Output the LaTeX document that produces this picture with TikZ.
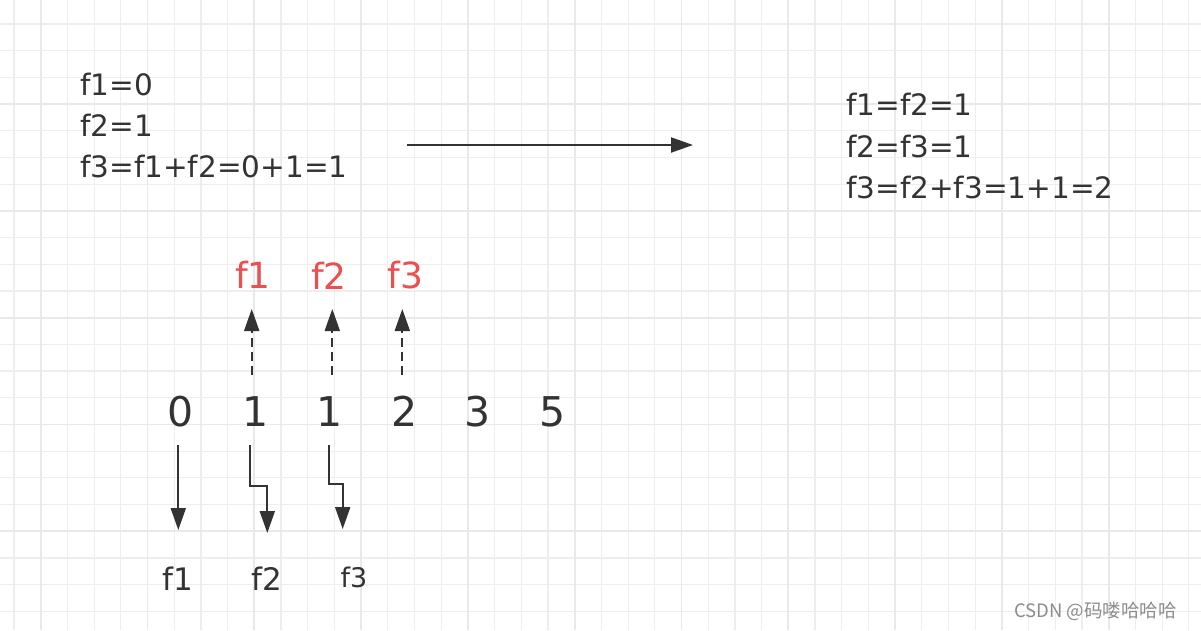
\documentclass[tikz,border=0pt]{standalone}
\usepackage{fontspec}
\setmainfont{DejaVu Sans}
\newfontfamily\cjk{Noto Sans CJK SC}
\usetikzlibrary{arrows.meta}
\definecolor{ink}{HTML}{333333}
\definecolor{redtxt}{HTML}{E9504F}
\definecolor{gridlo}{HTML}{EEEEEE}
\definecolor{gridhi}{HTML}{E9E9E9}
\tikzstyle{gridminor} = [line width = 1.2, color = gridlo]
\tikzstyle{gridmajor} = [line width = 1.8, color = gridhi]
\tikzstyle{arr} = [line width = 2, color = ink, -{Triangle[length=22pt, width=15pt]}]
\tikzstyle{dasharr} = [arr, dash pattern=on 9pt off 5pt]
\tikzstyle{txt} = [inner sep=0, anchor=base west, text=ink, font=\fontsize{29.5}{35}\selectfont]
\tikzstyle{num} = [inner sep=0, anchor=base, text=ink, font=\fontsize{41}{48}\selectfont]
\tikzstyle{ptr} = [inner sep=0, anchor=base, text=redtxt, font=\fontsize{36}{43}\selectfont]
\tikzstyle{lab} = [inner sep=0, anchor=base, text=ink, font=\fontsize{31}{36}\selectfont]

\begin{document}
\begin{tikzpicture}[x=1pt, y=-1pt, line cap=butt]

		% Background
		\fill[white] (0,0) rectangle (1201,630);
		\useasboundingbox (0,0) rectangle (1201,630);

		% Grid
		\foreach \i in {0,...,44}
			\draw[gridminor] ({14+26.7*\i},0) -- ({14+26.7*\i},630);
		\foreach \j in {0,...,22}
			\draw[gridminor] (0,{23.9+26.7*\j}) -- (1201,{23.9+26.7*\j});
		\foreach \i in {0,...,10}
			\draw[gridmajor] ({40.7+106.8*\i},0) -- ({40.7+106.8*\i},630);
		\foreach \j in {0,...,4}
			\draw[gridmajor] (0,{104+106.8*\j}) -- (1201,{104+106.8*\j});

		% Coordinates
		\coordinate (a1) at (407,145);
		\coordinate (a2) at (693,145);
		\coordinate (d1) at (178.3,445);
		\coordinate (e1) at (178.3,530);
		\coordinate (d2) at (250,445);
		\coordinate (e2) at (267.3,533);
		\coordinate (d3) at (329,445);
		\coordinate (e3) at (342.7,529);

		% Nodes
		\node[txt] (l1) at (80,95) {f1=0};
		\node[txt] (l2) at (80,136.5) {f2=1};
		\node[txt] (l3) at (80,177) {f3=f1+f2=0+1=1};
		\node[txt] (r1) at (846,115) {f1=f2=1};
		\node[txt] (r2) at (846,157) {f2=f3=1};
		\node[txt] (r3) at (846,198.5) {f3=f2+f3=1+1=2};

		\foreach \v/\x [count=\k] in {0/181,1/256,1/330,2/405,3/478,5/553}
			\node[num] (n\k) at (\x,426.5) {\v};

		\node[ptr] (p1) at (253,288.5) {f1};
		\node[ptr] (p2) at (329,289.5) {f2};
		\node[ptr] (p3) at (405.5,288.5) {f3};

		\node[lab] (q1) at (178,590) {f1};
		\node[lab] (q2) at (267,590) {f2};
		\node[lab, font=\fontsize{27}{32}\selectfont] (q3) at (354,587) {f3};

		\node[inner sep=0, anchor=base west, text=black!45, font=\cjk\fontsize{18.5}{22}\selectfont] (wm) at (1014,617) {CSDN @码喽哈哈哈};

		% Arrows
		\draw[arr] (a1) -- (a2);
		\foreach \x [count=\k] in {251.7,332.3,402.3}
		{
			\coordinate (u\k) at (\x,375);
			\coordinate (v\k) at (\x,309);
			\draw[dasharr] (u\k) -- (v\k);
		}
		\draw[arr] (d1) -- (e1);
		\draw[arr] (d2) -- ++(0,41) -| (e2);
		\draw[arr] (d3) -- ++(0,39) -| (e3);
	\end{tikzpicture}
\end{document}
